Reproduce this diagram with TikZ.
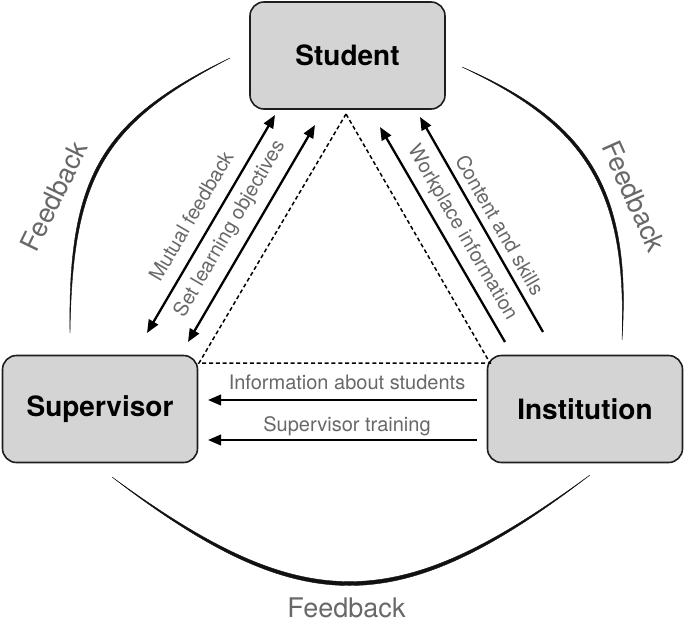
\documentclass[tikz,border=0pt]{standalone}
\usepackage{fontspec}
\setmainfont{TeX Gyre Heros}
\usetikzlibrary{arrows.meta}
\definecolor{boxfill}{HTML}{D4D4D4}
\definecolor{boxline}{HTML}{1E1E1E}
\definecolor{txtgray}{HTML}{686868}
\definecolor{arcc}{HTML}{111111}
\begin{document}
\begin{tikzpicture}[x=1pt,y=-1pt,
 entity/.style={draw=boxline, line width=1.6pt, fill=boxfill, rounded corners=14pt,
   minimum width=195pt, minimum height=107pt, inner sep=0pt,
   font=\bfseries\fontsize{28}{32}\selectfont},
 flow/.style={line width=2.3pt, -{Triangle[length=13pt,width=10.5pt]}},
 biflow/.style={line width=2.3pt, {Triangle[length=13pt,width=10.5pt]}-{Triangle[length=13pt,width=10.5pt]}},
 lbl/.style={text=txtgray, font=\fontsize{20}{22}\selectfont, inner sep=0pt},
 fb/.style={text=txtgray, font=\fontsize{27}{30}\selectfont, inner sep=0pt},
 tri/.style={line width=1.5pt, dash pattern=on 4pt off 2.8pt},
 brush/.style={fill=arcc, draw=arcc, line width=0.4pt}
]
\useasboundingbox (0,0) rectangle (685,624);

% boxes
\node[entity] (stu) at (347.5,55.5) {Student};
\node[entity] (sup) at (100,409) {Supervisor};
\node[entity] (ins) at (585,409) {Institution};

% dashed triangle
\coordinate (ta) at (346,114);
\coordinate (tl) at (199,363);
\coordinate (tr) at (490,363);
\draw[tri] (ta) -- (tl) -- (tr) -- cycle;

% arrows student - supervisor
\coordinate (mf1) at (147,333);
\coordinate (mf2) at (275,115);
\coordinate (sl1) at (188,342);
\coordinate (sl2) at (315,125);
\draw[biflow] (mf1) -- (mf2);
\draw[biflow] (sl1) -- (sl2);

% arrows institution - student
\coordinate (wi1) at (505,342);
\coordinate (wi2) at (380,127);
\coordinate (cs1) at (543,332);
\coordinate (cs2) at (420,117);
\draw[flow] (wi1) -- (wi2);
\draw[flow] (cs1) -- (cs2);

% arrows institution - supervisor
\coordinate (ia1) at (477,400);
\coordinate (ia2) at (208,400);
\coordinate (st1) at (477,440);
\coordinate (st2) at (208,440);
\draw[flow] (ia1) -- (ia2);
\draw[flow] (st1) -- (st2);

% labels
\node[lbl, anchor=base] (lia) at (347,389) {Information about students};
\node[lbl, anchor=base] (lst) at (347,431) {Supervisor training};
\node[lbl, rotate=59.6] (lmf) at (191,216) {Mutual feedback};
\node[lbl, rotate=59.8] (lsl) at (230,229) {Set learning objectives};
\node[lbl, rotate=-59.8] (lwi) at (462,233) {Workplace information};
\node[lbl, rotate=-60.2] (lcs) at (500,225) {Content and skills};

% feedback brush arcs (tapered)
\filldraw[brush] (230,58) .. controls (100.9,119.9) and (67.6,177) .. (70,333)
   .. controls (72.4,177) and (103.1,124.1) .. (230,58) -- cycle;
\filldraw[brush] (462,67) .. controls (590.4,122.1) and (631.8,192.6) .. (622,340)
   .. controls (627,192.4) and (588.4,126.5) .. (462,67) -- cycle;
\filldraw[brush] (112,477) .. controls (300.3,622.2) and (399.7,621.8) .. (590,475)
   .. controls (395.9,616.6) and (304.1,617.0) .. (112,477) -- cycle;

\node[fb, rotate=64] (fbl) at (54,196) {Feedback};
\node[fb, rotate=-66] (fbr) at (634,196) {Feedback};
\node[fb, anchor=base] (fbb) at (346.5,617) {Feedback};
\end{tikzpicture}
\end{document}
